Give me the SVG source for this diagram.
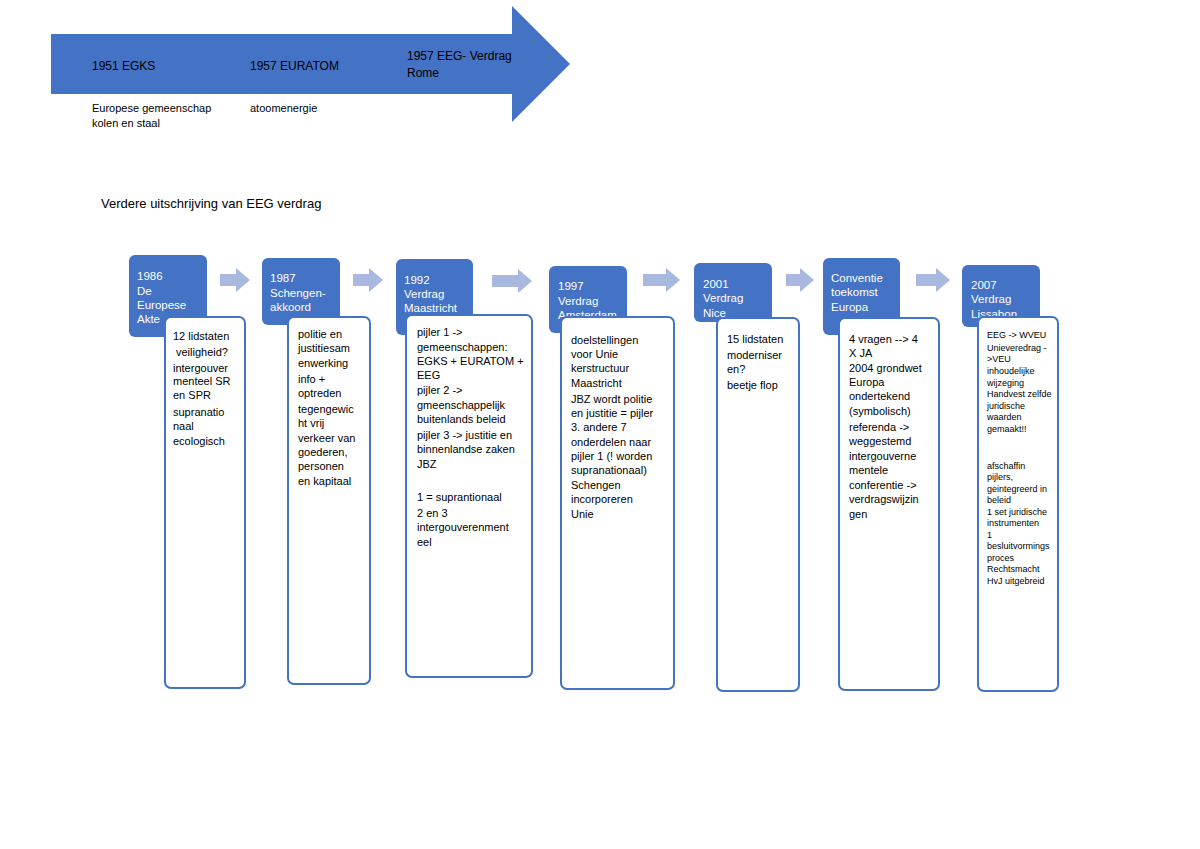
<svg xmlns="http://www.w3.org/2000/svg" width="1200" height="849" viewBox="0 0 1200 849">
<style>
.h{fill:#4472C4}
.w{fill:#fff;stroke:#4472C4;stroke-width:2}
.la{fill:#A9B8DE}
text{font-family:"Liberation Sans",Arial,sans-serif;font-size:11px;fill:#000}
.ht{fill:#fff;font-size:11.5px}
.t{font-size:12px}
.s{font-size:9px}
</style>
<rect width="1200" height="849" fill="#fff"/>
<g id="timeline">
<polygon class="h" points="51,34 512,34 512,6 570,64 512,122 512,94 51,94"/>
<text x="92" y="70" class="t">1951 EGKS</text>
<text x="250" y="70" class="t">1957 EURATOM</text>
<text x="407" y="60" class="t">1957 EEG- Verdrag</text>
<text x="407" y="77" class="t">Rome</text>
<text x="92" y="112">Europese gemeenschap</text>
<text x="92" y="127">kolen en staal</text>
<text x="250" y="112">atoomenergie</text>
</g>
<text x="101" y="208" style="font-size:13px">Verdere uitschrijving van EEG verdrag</text>
<g id="connectors">
<polygon class="la" points="220,274 236,274 236,268 250,280 236,292 236,286 220,286"/>
<polygon class="la" points="353,274 369,274 369,268 383,280 369,292 369,286 353,286"/>
<polygon class="la" points="492,275 518,275 518,269 532,281 518,293 518,287 492,287"/>
<polygon class="la" points="643,274 666,274 666,268 680,280 666,292 666,286 643,286"/>
<polygon class="la" points="786,274 800,274 800,268 814,280 800,292 800,286 786,286"/>
<polygon class="la" points="916,274 936,274 936,268 950,280 936,292 936,286 916,286"/>
</g>
<g id="n1">
<rect class="h" x="129" y="255" width="78" height="82" rx="6"/>
<text class="ht" x="137" y="280">1986</text><text class="ht" x="137" y="295">De</text><text class="ht" x="137" y="309">Europese</text><text class="ht" x="137" y="323">Akte</text>
<rect class="w" x="165" y="317" width="80" height="371" rx="6"/>
<text x="173" y="340">12 lidstaten</text><text x="176" y="356">veiligheid?</text><text x="173" y="372">intergouver</text><text x="173" y="385">menteel SR</text><text x="173" y="399">en SPR</text><text x="173" y="416">supranatio</text><text x="173" y="430">naal</text><text x="173" y="445">ecologisch</text>
</g>
<g id="n2">
<rect class="h" x="262" y="258" width="78" height="67" rx="6"/>
<text class="ht" x="270" y="282">1987</text><text class="ht" x="270" y="297">Schengen-</text><text class="ht" x="270" y="311">akkoord</text>
<rect class="w" x="288" y="317" width="82" height="367" rx="6"/>
<text x="298" y="338">politie en</text><text x="298" y="352">justitiesam</text><text x="298" y="367">enwerking</text><text x="298" y="383">info +</text><text x="298" y="397">optreden</text><text x="298" y="413">tegengewic</text><text x="298" y="427">ht vrij</text><text x="298" y="442">verkeer van</text><text x="298" y="456">goederen,</text><text x="298" y="470">personen</text><text x="298" y="485">en kapitaal</text>
</g>
<g id="n3">
<rect class="h" x="396" y="259" width="77" height="76" rx="6"/>
<text class="ht" x="404" y="284">1992</text><text class="ht" x="404" y="298">Verdrag</text><text class="ht" x="404" y="312">Maastricht</text>
<rect class="w" x="406" y="315" width="126" height="362" rx="6"/>
<text x="417" y="336">pijler 1 -&gt;</text><text x="417" y="351">gemeenschappen:</text><text x="417" y="365">EGKS + EURATOM +</text><text x="417" y="379">EEG</text><text x="417" y="394">pijler 2 -&gt;</text><text x="417" y="409">gmeenschappelijk</text><text x="417" y="423">buitenlands beleid</text><text x="417" y="439">pijler 3 -&gt; justitie en</text><text x="417" y="453">binnenlandse zaken</text><text x="417" y="468">JBZ</text><text x="417" y="501">1 = suprantionaal</text><text x="417" y="517">2 en 3</text><text x="417" y="531">intergouverenment</text><text x="417" y="546">eel</text>
</g>
<g id="n4">
<rect class="h" x="549" y="266" width="78" height="67" rx="6"/>
<text class="ht" x="558" y="290">1997</text><text class="ht" x="558" y="305">Verdrag</text><text class="ht" x="558" y="319">Amsterdam</text>
<rect class="w" x="561" y="317" width="113" height="372" rx="6"/>
<text x="571" y="344">doelstellingen</text><text x="571" y="358">voor Unie</text><text x="571" y="372">kerstructuur</text><text x="571" y="387">Maastricht</text><text x="571" y="403">JBZ wordt politie</text><text x="571" y="417">en justitie = pijler</text><text x="571" y="431">3. andere 7</text><text x="571" y="446">onderdelen naar</text><text x="571" y="460">pijler 1 (! worden</text><text x="571" y="474">supranationaal)</text><text x="571" y="489">Schengen</text><text x="571" y="503">incorporeren</text><text x="571" y="518">Unie</text>
</g>
<g id="n5">
<rect class="h" x="694" y="263" width="78" height="59" rx="6"/>
<text class="ht" x="703" y="288">2001</text><text class="ht" x="703" y="302">Verdrag</text><text class="ht" x="703" y="317">Nice</text>
<rect class="w" x="717" y="318" width="82" height="373" rx="6"/>
<text x="727" y="343">15 lidstaten</text><text x="727" y="359">moderniser</text><text x="727" y="373">en?</text><text x="727" y="389">beetje flop</text>
</g>
<g id="n6">
<rect class="h" x="823" y="258" width="77" height="77" rx="6"/>
<text class="ht" x="831" y="282">Conventie</text><text class="ht" x="831" y="296">toekomst</text><text class="ht" x="831" y="311">Europa</text>
<rect class="w" x="839" y="318" width="100" height="372" rx="6"/>
<text x="849" y="343">4 vragen --&gt; 4</text><text x="849" y="357">X JA</text><text x="849" y="372">2004 grondwet</text><text x="849" y="386">Europa</text><text x="849" y="400">ondertekend</text><text x="849" y="415">(symbolisch)</text><text x="849" y="431">referenda -&gt;</text><text x="849" y="445">weggestemd</text><text x="849" y="460">intergouverne</text><text x="849" y="474">mentele</text><text x="849" y="489">conferentie -&gt;</text><text x="849" y="503">verdragswijzin</text><text x="849" y="518">gen</text>
</g>
<g id="n7">
<rect class="h" x="962" y="265" width="78" height="62" rx="6"/>
<text class="ht" x="971" y="289">2007</text><text class="ht" x="971" y="303">Verdrag</text><text class="ht" x="971" y="318">Lissabon</text>
<rect class="w" x="978" y="317" width="80" height="374" rx="6"/>
<g class="s"><text class="s" x="987" y="338">EEG -&gt; WVEU</text><text class="s" x="987" y="351">Unieveredrag -</text><text class="s" x="987" y="362">&gt;VEU</text><text class="s" x="987" y="374">inhoudelijke</text><text class="s" x="987" y="386">wijzeging</text><text class="s" x="987" y="397">Handvest zelfde</text><text class="s" x="987" y="409">juridische</text><text class="s" x="987" y="420">waarden</text><text class="s" x="987" y="432">gemaakt!!</text><text class="s" x="987" y="469">afschaffin</text><text class="s" x="987" y="480">pijlers,</text><text class="s" x="987" y="492">geintegreerd in</text><text class="s" x="987" y="503">beleid</text><text class="s" x="987" y="515">1 set juridische</text><text class="s" x="987" y="526">instrumenten</text><text class="s" x="987" y="538">1</text><text class="s" x="987" y="549">besluitvormings</text><text class="s" x="987" y="561">proces</text><text class="s" x="987" y="572">Rechtsmacht</text><text class="s" x="987" y="584">HvJ uitgebreid</text></g>
</g>
</svg>
